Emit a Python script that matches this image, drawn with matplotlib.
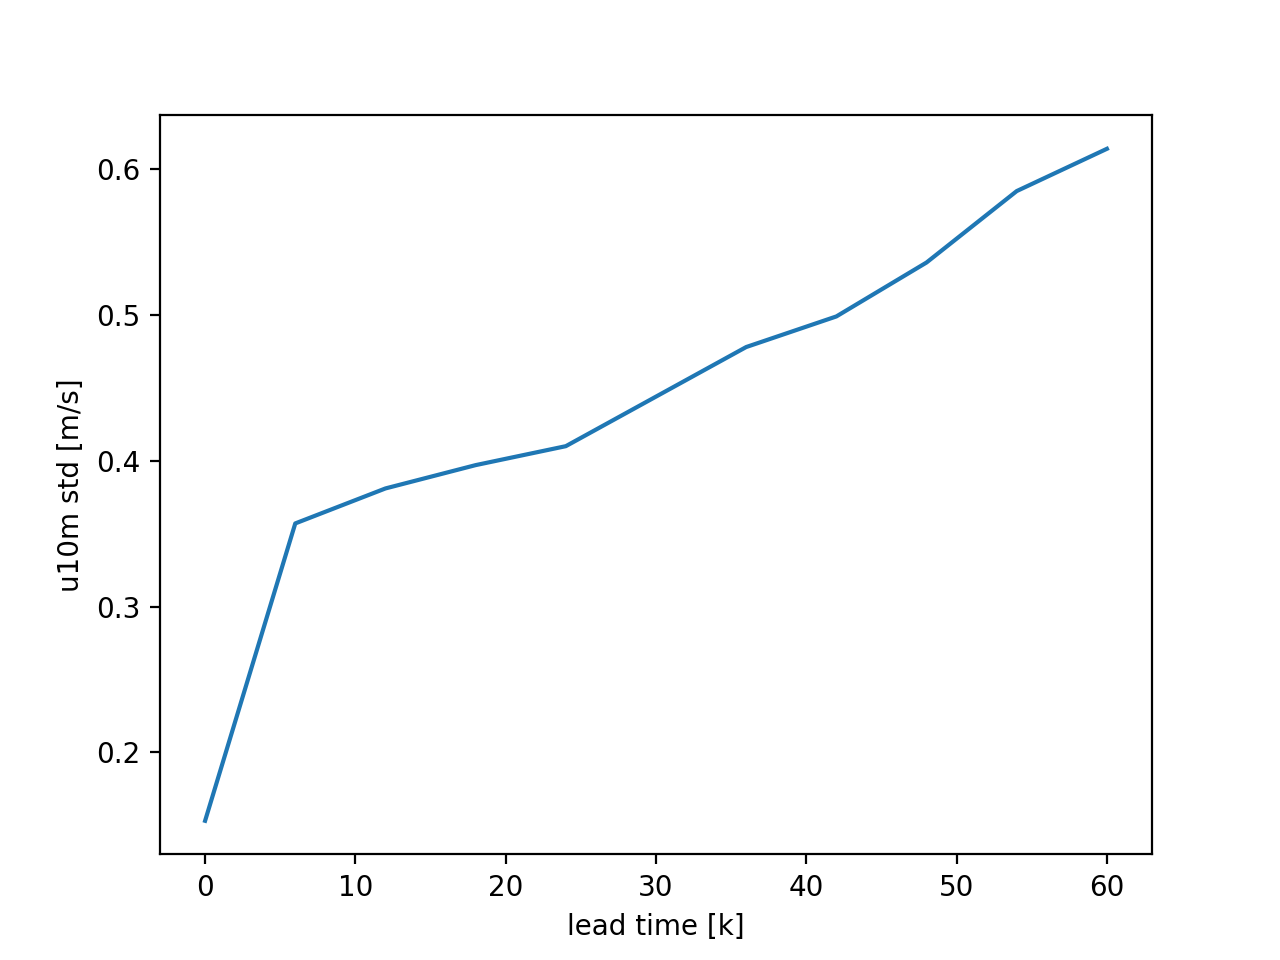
import matplotlib
matplotlib.use("Agg")
import matplotlib.pyplot as plt

lead_time = [0, 6, 12, 18, 24, 30, 36, 42, 48, 54, 60]
u10m_std = [0.153, 0.357, 0.381, 0.397, 0.410, 0.444, 0.478, 0.499, 0.536, 0.585, 0.614]

fig = plt.figure(figsize=(6.4, 4.8), dpi=200)
ax = fig.add_subplot(1, 1, 1)
ax.plot(lead_time, u10m_std)
ax.set_xlabel("lead time [k]")
ax.set_ylabel("u10m std [m/s]")
fig.savefig("out.png", dpi=200)
